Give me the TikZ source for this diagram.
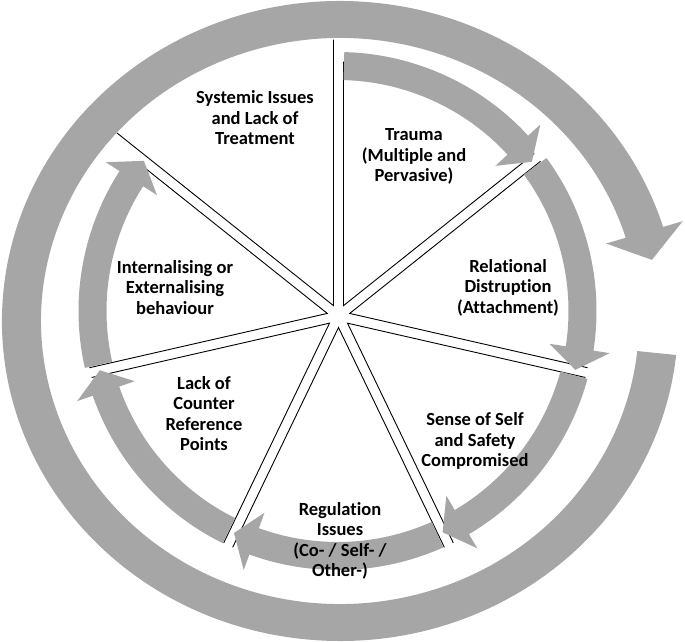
\documentclass[tikz,border=0pt]{standalone}
\usepackage{fontspec}
\setmainfont{Carlito}[Ligatures=NoCommon]
\usetikzlibrary{calc}

\definecolor{ringgray}{HTML}{A6A6A6}

% curved arrow round the origin: mid radius, half width, half head width,
% start angle, head base angle, tip angle
\newcommand{\ringarrow}[6]{%
  \fill[ringgray] (#4:{#1+#2}) arc[start angle=#4, end angle=#5, radius={#1+#2}]
    -- (#5:{#1+#3}) -- (#6:#1) -- (#5:{#1-#3}) -- (#5:{#1-#2})
    arc[start angle=#5, end angle=#4, radius={#1-#2}] -- cycle;}

\begin{document}
\begin{tikzpicture}[x=1pt, y=1pt,
  stage/.style={align=center, inner sep=0pt, font=\bfseries\fontsize{18.5}{20.5}\selectfont},
  edge/.style={draw=black, line width=0.9pt}]
\useasboundingbox (0,0) rectangle (685,642);

\coordinate (c) at (338.5,326);
\coordinate (p1) at ($(c)+(115.71:11.5)$);
\coordinate (p2) at ($(c)+(64.29:11.5)$);
\coordinate (p3) at ($(c)+(12.86:11.5)$);
\coordinate (p4) at ($(c)+(-38.57:11.5)$);
\coordinate (p5) at ($(c)+(-90:11.5)$);
\coordinate (p6) at ($(c)+(-141.43:11.5)$);
\coordinate (p7) at ($(c)+(167.14:11.5)$);

\draw[edge] (p1) ++(90:266) -- (p1) -- ++(141.43:277);
\draw[edge] (p2) ++(90:244) -- (p2) -- ++(38.57:244);
\draw[edge] (p3) ++(38.57:244) -- (p3) -- ++(-12.86:244);
\draw[edge] (p4) ++(-12.86:244) -- (p4) -- ++(-64.29:244);
\draw[edge] (p5) ++(-64.29:244) -- (p5) -- ++(-115.71:244);
\draw[edge] (p6) ++(-115.71:244) -- (p6) -- ++(-167.14:244);
\draw[edge] (p7) ++(-167.14:244) -- (p7) -- ++(141.43:244);

\begin{scope}[shift={(337.5,331)}]
\ringarrow{245}{14}{30.5}{88.5}{42.6}{37.5}
\ringarrow{245}{14}{30.5}{36.2}{-8.8}{-13.9}
\ringarrow{245}{14}{30.5}{-15.2}{-59.5}{-64.6}
\ringarrow{245}{14}{30.5}{-65.9}{-109.9}{-115.0}
\ringarrow{245}{14}{30.5}{-116.3}{-160.9}{-166.0}
\ringarrow{245}{14}{30.5}{-167.3}{-212.7}{-217.8}
\end{scope}

\begin{scope}[shift={(340,321)}, xscale=1.0564]
\ringarrow{301.5}{18.5}{38}{-6.1}{-342.9}{-348.3}
\end{scope}

\node[stage] (systemic) at (255,524) {Systemic Issues\\and Lack of\\Treatment};
\node[stage] (trauma) at (414,485.5) {Trauma\\(Multiple and\\Pervasive)};
\node[stage] (relational) at (508,354.5) {Relational\\Distruption\\(Attachment)};
\node[stage] (self) at (475,201) {Sense of Self\\and Safety\\Compromised};
\node[stage] (regulation) at (340,101) {Regulation\\Issues\\(Co- / Self- /\\Other-)};
\node[stage] (counter) at (204,228.5) {Lack of\\Counter\\Reference\\Points};
\node[stage] (behaviour) at (175,354.5) {Internalising or\\Externalising\\behaviour};
\end{tikzpicture}
\end{document}
